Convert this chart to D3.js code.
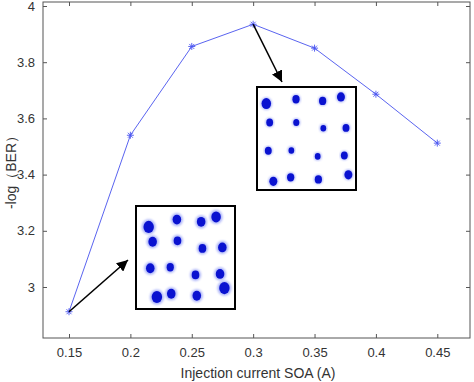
<!DOCTYPE html>
<html><head><meta charset="utf-8">
<script src="https://cdn.jsdelivr.net/npm/d3@7"></script>
<style>body{margin:0;background:#fff}svg{display:block}</style>
</head><body>
<script>
const current = [0.15, 0.2, 0.25, 0.3, 0.35, 0.4, 0.45];
const logBER = [2.912, 3.54, 3.856, 3.935, 3.85, 3.686, 3.512];
const xTicks = [0.15, 0.2, 0.25, 0.3, 0.35, 0.4, 0.45];
const yTicks = [3, 3.2, 3.4, 3.6, 3.8, 4];
// constellation cluster centres (fraction of inset box) and sizes
const inset1Pts = [[0.128,0.203,5.5],[0.413,0.132,4.5],[0.658,0.154,4.5],[0.809,0.106,5],
  [0.168,0.347,4.5],[0.419,0.338,4],[0.671,0.412,4],[0.872,0.402,4.5],
  [0.144,0.605,4.5],[0.346,0.595,3.8],[0.601,0.669,4],[0.849,0.659,4.5],
  [0.211,0.884,5.5],[0.356,0.852,4.5],[0.614,0.871,4.5],[0.893,0.797,5.5]];
const inset2Pts = [[0.094,0.161,5],[0.394,0.119,3.8],[0.663,0.135,3.8],[0.848,0.097,4.2],
  [0.128,0.345,3.6],[0.397,0.345,3.2],[0.670,0.400,3],[0.899,0.397,3.6],
  [0.114,0.619,3.6],[0.347,0.616,3],[0.613,0.674,3],[0.882,0.665,3.6],
  [0.165,0.916,4.2],[0.340,0.877,3.8],[0.620,0.897,3.8],[0.923,0.852,4.2]];

const W = 474, H = 382;
const L = 43, R = 470, T = 2, B = 338;
const svg = d3.select("body").append("svg").attr("width", W).attr("height", H)
  .style("font-family", "Liberation Sans, Arial, sans-serif");
const x = d3.scaleLinear().domain([0.15, 0.45]).range([69, 437.3]);
const y = d3.scaleLinear().domain([3, 4]).range([287, 6]);

const defs = svg.append("defs");
defs.append("filter").attr("id","blur").append("feGaussianBlur").attr("stdDeviation", 0.9);
defs.append("marker").attr("id","ah").attr("viewBox","0 0 10 10").attr("refX",10).attr("refY",5)
  .attr("markerWidth",7).attr("markerHeight",7).attr("orient","auto")
  .append("path").attr("d","M0,0 L10,5 L0,10 z").attr("fill","#000");

svg.append("rect").attr("x", L).attr("y", T).attr("width", R-L).attr("height", B-T)
  .attr("fill","none").attr("stroke","#555").attr("stroke-width",1);

const gx = svg.append("g").attr("transform",`translate(0,${B})`)
  .call(d3.axisBottom(x).tickValues(xTicks).tickSizeInner(-4).tickSizeOuter(0).tickPadding(10).tickFormat(d3.format("")));
const gxt = svg.append("g").attr("transform",`translate(0,${T})`)
  .call(d3.axisTop(x).tickValues(xTicks).tickSizeInner(-4).tickSizeOuter(0).tickFormat(""));
const gy = svg.append("g").attr("transform",`translate(${L},0)`)
  .call(d3.axisLeft(y).tickValues(yTicks).tickSizeInner(-4).tickSizeOuter(0).tickPadding(8).tickFormat(d3.format("")));
const gyr = svg.append("g").attr("transform",`translate(${R},0)`)
  .call(d3.axisRight(y).tickValues(yTicks).tickSizeInner(-4).tickSizeOuter(0).tickFormat(""));
[gx,gxt,gy,gyr].forEach(g=>{
  g.select(".domain").remove();
  g.selectAll("line").attr("stroke","#555");
  g.selectAll("text").attr("fill","#333").style("font-size","13px");
});

svg.append("text").attr("x", 258).attr("y", 378).attr("text-anchor","middle")
  .attr("fill","#333").style("font-size","14px").text("Injection current SOA (A)");
svg.append("text").attr("transform",`translate(16,169) rotate(-90)`).attr("text-anchor","middle")
  .attr("fill","#333").style("font-size","14px").text("-log（BER）");

const pts = current.map((c,i)=>[x(c), y(logBER[i])]);
svg.append("path").attr("d", d3.line()(pts)).attr("fill","none")
  .attr("stroke","#5a64f0").attr("stroke-width",1);
const mk = svg.append("g").selectAll("g").data(pts).join("g")
  .attr("transform", d=>`translate(${d[0]},${d[1]})`);
[[-3.5,0,3.5,0],[0,-3.5,0,3.5],[-2.5,-2.5,2.5,2.5],[-2.5,2.5,2.5,-2.5]].forEach(s=>{
  mk.append("line").attr("x1",s[0]).attr("y1",s[1]).attr("x2",s[2]).attr("y2",s[3])
    .attr("stroke","#4a55f0").attr("stroke-width",0.9);
});

function inset(x0, y0, w, h, data, fuzzy){
  const g = svg.append("g");
  g.append("rect").attr("x",x0).attr("y",y0).attr("width",w).attr("height",h)
    .attr("fill","#fff").attr("stroke","#000").attr("stroke-width",2);
  const sx = d3.scaleLinear().domain([0,1]).range([x0,x0+w]);
  const sy = d3.scaleLinear().domain([0,1]).range([y0,y0+h]);
  g.selectAll("ellipse.h").data(data).join("ellipse").attr("class","h")
    .attr("cx",d=>sx(d[0])).attr("cy",d=>sy(d[1]))
    .attr("rx",d=>d[2]+(fuzzy?1.6:0.8)).attr("ry",d=>d[2]*1.1+(fuzzy?1.6:0.8))
    .attr("fill","#4d5ff2").attr("opacity",0.45).attr("filter","url(#blur)");
  g.selectAll("ellipse.c").data(data).join("ellipse").attr("class","c")
    .attr("cx",d=>sx(d[0])).attr("cy",d=>sy(d[1]))
    .attr("rx",d=>d[2]*0.95).attr("ry",d=>d[2]*1.1)
    .attr("fill","#0a12d0");
}
inset(136, 206, 99, 103, inset1Pts, true);
inset(257, 87, 99, 103, inset2Pts, false);

svg.append("line").attr("x1", x(0.15)).attr("y1", y(2.912)).attr("x2", 128).attr("y2", 260)
  .attr("stroke","#000").attr("stroke-width",1.6).attr("marker-end","url(#ah)");
svg.append("line").attr("x1", x(0.3)).attr("y1", y(3.935)).attr("x2", 282).attr("y2", 82)
  .attr("stroke","#000").attr("stroke-width",1.6).attr("marker-end","url(#ah)");
</script>
</body></html>
